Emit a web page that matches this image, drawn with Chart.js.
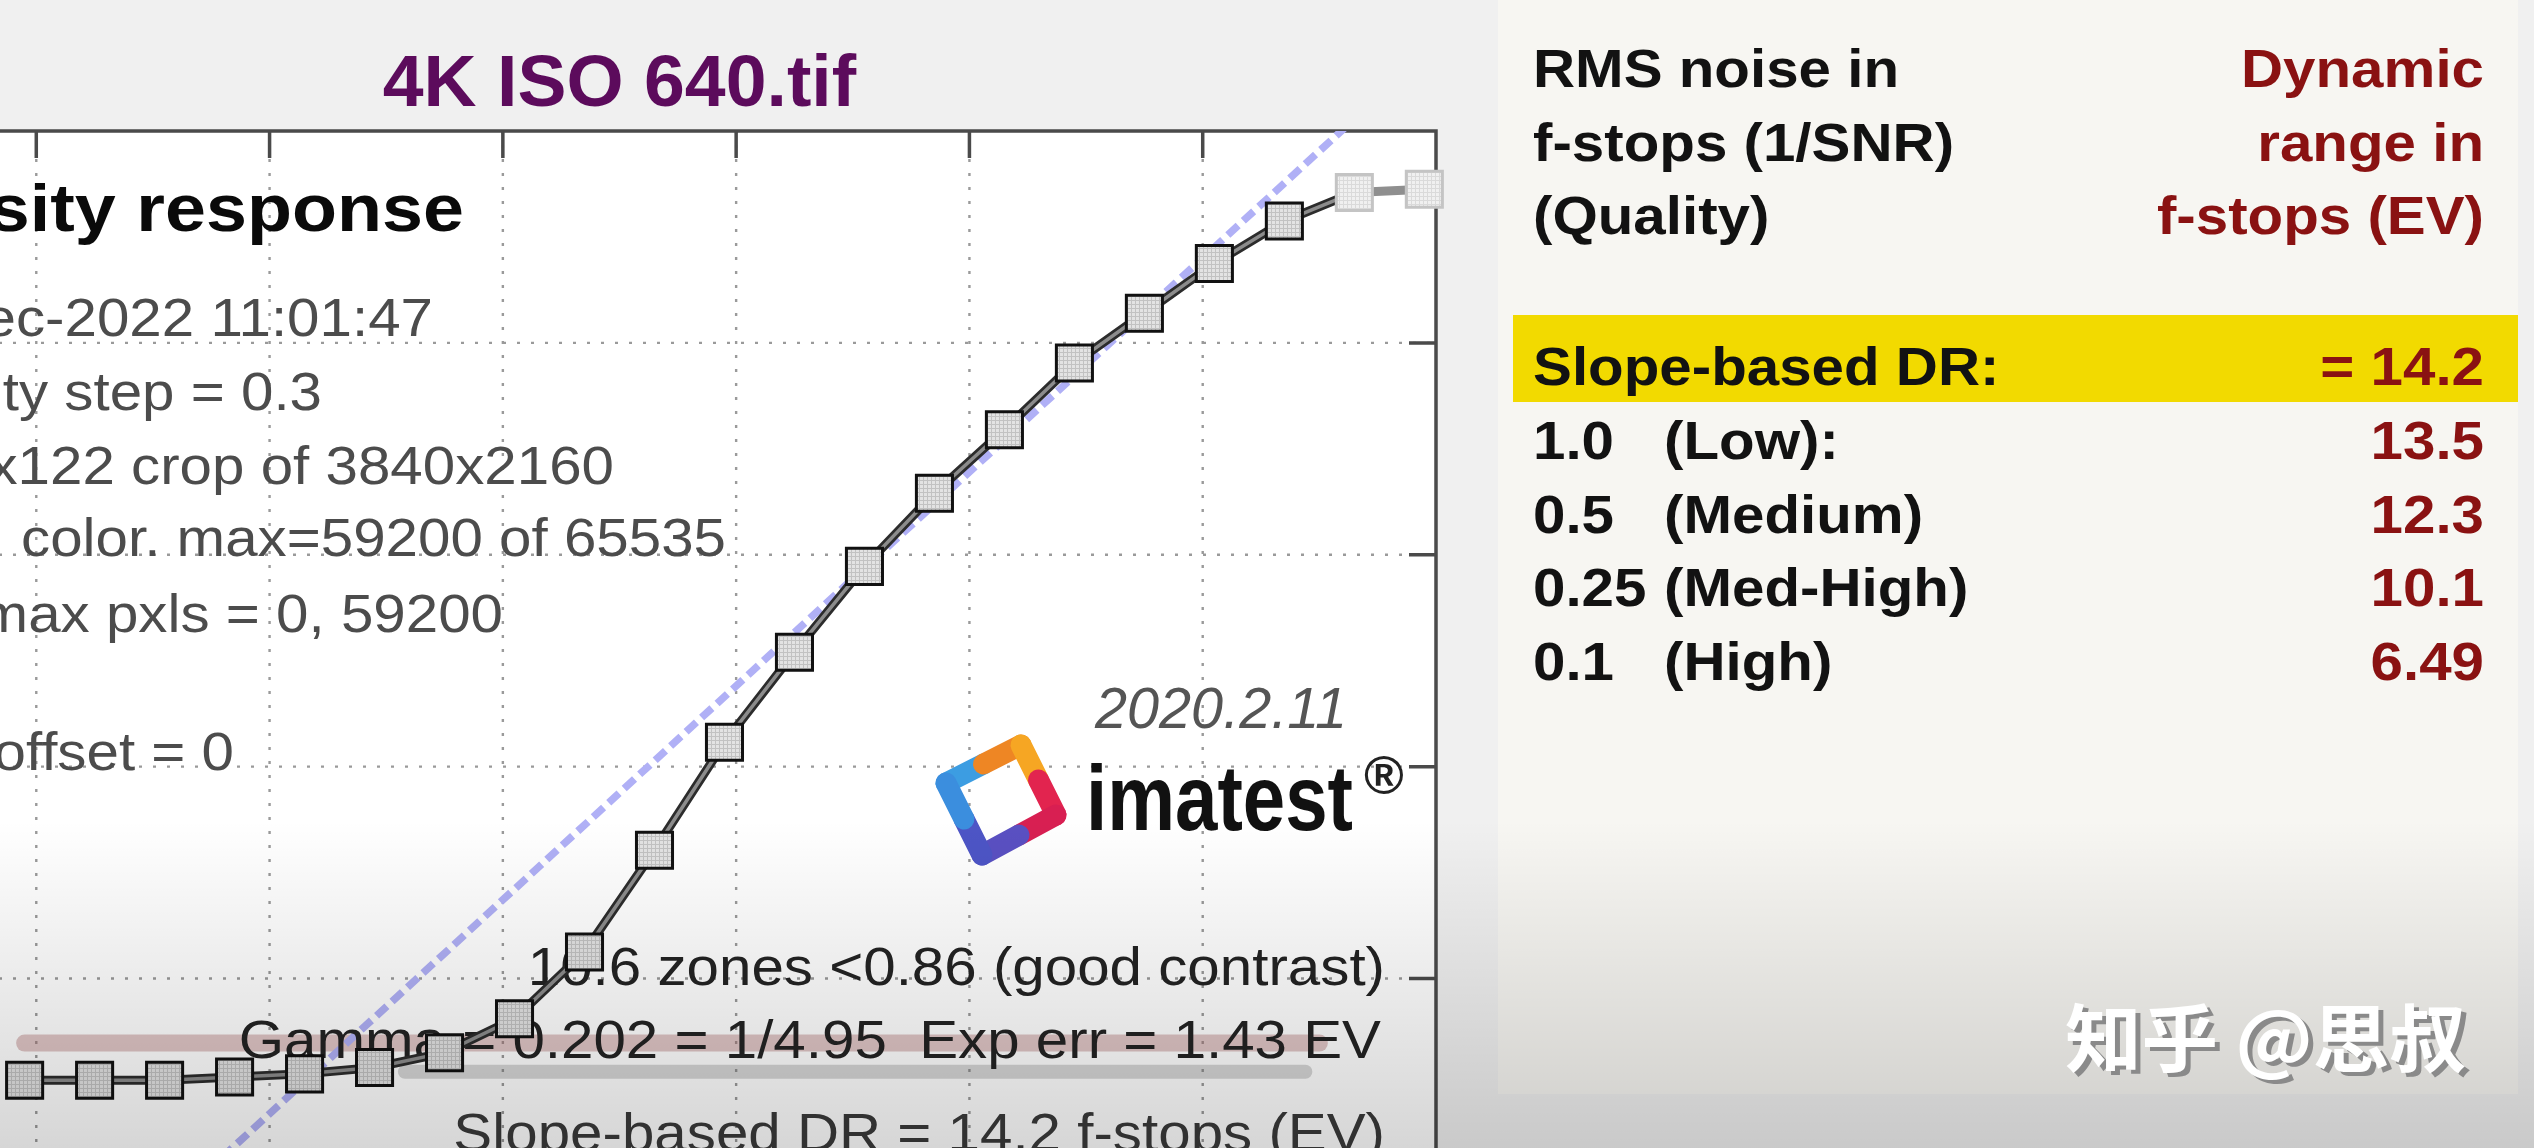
<!DOCTYPE html>
<html>
<head>
<meta charset="utf-8">
<title>4K ISO 640.tif - Density response</title>
<script src="https://cdn.jsdelivr.net/npm/chart.js@4.4.1/dist/chart.umd.min.js"></script>
<style>
  html, body { margin: 0; padding: 0; background: #f0f0f0; }
  #wrap { position: relative; width: 2534px; height: 1148px; overflow: hidden; }
  #chart { position: absolute; left: -197px; top: 0; }
</style>
</head>
<body>
<div id="wrap"><canvas id="chart" width="2731" height="1148"></canvas></div>
<script>
// step chart patches: log exposure (= -density) and log pixel level
const logExposure = [-6.05, -5.75, -5.45, -5.15, -4.85, -4.55, -4.25, -3.95, -3.65, -3.35, -3.05,
                     -2.75, -2.45, -2.15, -1.85, -1.55, -1.25, -0.95, -0.65, -0.35, -0.05];
const logPixel = [-0.896, -0.896, -0.896, -0.893, -0.890, -0.884, -0.870, -0.838, -0.775, -0.679, -0.577,
                  -0.492, -0.411, -0.342, -0.282, -0.219, -0.172, -0.125, -0.085, -0.058, -0.055];
const firstSaturated = 19;

// gamma fit (slope 0.202), dashed
const gammaFitX = [-6.2, 0];
const gammaFitY = [-1.170, 0.082];

// the two horizontal bands near the bottom
const pinkBandX = [-6.05, -0.50];
const pinkBandY = [-0.861, -0.861];
const grayBandX = [-4.42, -0.56];
const grayBandY = [-0.888, -0.888];

// axes (labels are outside the visible crop)
const xGrid = [-6, -5, -4, -3, -2, -1];
const yGrid = [-0.8, -0.6, -0.4, -0.2];
const X_MIN = -7, X_MAX = 0, Y_MIN = -0.96, Y_MAX = 0;

// results table on the right
const qualityLevel = ['1.0', '0.5', '0.25', '0.1'];
const qualityName = ['(Low):', '(Medium)', '(Med-High)', '(High)'];
const dynRange = ['13.5', '12.3', '10.1', '6.49'];
const slopeDR = '= 14.2';

const OFF = 197;            // canvas starts 197px left of the window
const FONT = '"Liberation Sans", Arial, sans-serif';

const canvas = document.getElementById('chart');
const c2d = canvas.getContext('2d');

function hatchPattern(bg, ln) {
  const pc = document.createElement('canvas');
  pc.width = 4; pc.height = 4;
  const p = pc.getContext('2d');
  p.fillStyle = bg; p.fillRect(0, 0, 4, 4);
  p.fillStyle = ln; p.fillRect(0, 0, 4, 1); p.fillRect(0, 0, 1, 4);
  return c2d.createPattern(pc, 'repeat');
}
const hatch = hatchPattern('#e3e3e3', '#c2c2c2');
const hatchLight = hatchPattern('#f0f0f0', '#dadada');

function txt(ctx, s, x, y, font, color, align, sx) {
  ctx.save();
  ctx.font = font;
  ctx.fillStyle = color;
  ctx.textAlign = align || 'left';
  ctx.textBaseline = 'alphabetic';
  ctx.translate(x, y);
  ctx.scale(sx || 1, 1);
  ctx.fillText(s, 0, 0);
  ctx.restore();
}

function txtFit(ctx, s, left, y, font, color, width) {
  ctx.save();
  ctx.font = font;
  const w = ctx.measureText(s).width;
  ctx.restore();
  txt(ctx, s, left, y, font, color, 'left', width / w);
}

const pts = (xs, ys) => xs.map((x, i) => ({x: x, y: ys[i]}));

const figure = {
  id: 'figure',
  beforeDraw(chart) {
    const {ctx, chartArea: a} = chart;
    ctx.save();
    ctx.fillStyle = '#f0f0f0';
    ctx.fillRect(0, 0, chart.width, chart.height);
    ctx.fillStyle = '#ffffff';
    ctx.fillRect(a.left, a.top, a.right - a.left, a.bottom - a.top);
    // results panel
    ctx.fillStyle = '#f7f6f2';
    ctx.fillRect(OFF + 1498, 0, 1020, 1094);
    ctx.restore();
  },
  beforeDatasetsDraw(chart) {
    const {ctx, chartArea: a, scales} = chart;
    ctx.save();
    // dotted grid
    ctx.strokeStyle = '#9a9a9a';
    ctx.lineWidth = 2.4;
    ctx.setLineDash([3, 11]);
    ctx.beginPath();
    xGrid.forEach(v => {
      const px = scales.x.getPixelForValue(v);
      ctx.moveTo(px, a.top);
      ctx.lineTo(px, a.bottom);
    });
    yGrid.forEach(v => {
      const py = scales.y.getPixelForValue(v);
      ctx.moveTo(a.left, py);
      ctx.lineTo(a.right, py);
    });
    ctx.stroke();
    ctx.setLineDash([]);
    // frame and inward ticks
    ctx.strokeStyle = '#4a4a4a';
    ctx.lineWidth = 3.5;
    ctx.beginPath();
    ctx.moveTo(a.left, a.top);
    ctx.lineTo(a.right, a.top);
    ctx.lineTo(a.right, a.bottom);
    xGrid.forEach(v => {
      const px = scales.x.getPixelForValue(v);
      ctx.moveTo(px, a.top);
      ctx.lineTo(px, a.top + 27);
    });
    yGrid.forEach(v => {
      const py = scales.y.getPixelForValue(v);
      ctx.moveTo(a.right, py);
      ctx.lineTo(a.right - 27, py);
    });
    ctx.stroke();
    ctx.restore();
  },
  beforeDatasetDraw(chart, args) {
    if (args.index !== 1) return;
    const ctx = chart.ctx;
    ctx.save();
    ctx.translate(OFF, 0);
    const reg = '53px ' + FONT;
    const grey = '#4c4c4c';
    txt(ctx, 'sity response', 464, 231, 'bold 67px ' + FONT, '#0a0a0a', 'right', 1.1);
    txt(ctx, 'ec-2022 11:01:47', 433, 336, reg, grey, 'right', 1.1);
    txt(ctx, 'ty step = 0.3', 322, 410, reg, grey, 'right', 1.1);
    txt(ctx, 'x122 crop of 3840x2160', 614, 484, reg, grey, 'right', 1.1);
    txt(ctx, 'color. max=59200 of 65535', 726, 556, reg, grey, 'right', 1.1);
    txt(ctx, 'max pxls = 0, 59200', 503, 632, reg, grey, 'right', 1.1);
    txt(ctx, 'offset = 0', 234, 770, reg, grey, 'right', 1.1);

    txtFit(ctx, '2020.2.11', 1095, 728, 'italic 57px ' + FONT, '#555555', 252);

    // imatest logo
    const T = [1021, 745], L = [946, 783], B = [982, 855], R = [1056, 815];
    const mid = (p, q) => [(p[0] + q[0]) / 2, (p[1] + q[1]) / 2];
    const segs = [
      [L, mid(L, T), '#3c9de2'], [mid(L, T), T, '#ee8624'],
      [T, mid(T, R), '#f6a623'], [mid(T, R), R, '#e2244f'],
      [R, mid(R, B), '#d81f52'], [mid(R, B), B, '#5a50c2'],
      [B, mid(B, L), '#4d55c6'], [mid(B, L), L, '#3b8ede']
    ];
    ctx.lineWidth = 21;
    ctx.lineCap = 'round';
    segs.forEach(s => {
      ctx.strokeStyle = s[2];
      ctx.beginPath();
      ctx.moveTo(s[0][0], s[0][1]);
      ctx.lineTo(s[1][0], s[1][1]);
      ctx.stroke();
    });
    txtFit(ctx, 'imatest', 1086, 830, 'bold 92px ' + FONT, '#111111', 267);
    txt(ctx, '\u00ae', 1384, 794, 'bold 54px ' + FONT, '#222222', 'center', 1);

    const dark = '#232323';
    txt(ctx, '10.6 zones <0.86 (good contrast)', 1385, 985, reg, dark, 'right', 1.1);
    txt(ctx, 'Gamma = 0.202 = 1/4.95  Exp err = 1.43 EV', 1381, 1058, reg, dark, 'right', 1.1);
    txt(ctx, 'Slope-based DR = 14.2 f-stops (EV)', 1385, 1151, reg, '#3a3a3a', 'right', 1.1);
    ctx.restore();
  },
  afterDraw(chart) {
    const {ctx, chartArea: a} = chart;
    ctx.save();
    // title centred over the plot
    txt(ctx, '4K ISO 640.tif', (a.left + a.right) / 2, 106, 'bold 72px ' + FONT, '#5c0b5c', 'center', 1.02);

    ctx.translate(OFF, 0);
    // results panel
    ctx.fillStyle = '#f2da00';
    ctx.fillRect(1513, 315, 1005, 87);
    const bold = 'bold 53px ' + FONT;
    const black = '#121212', maroon = '#8a1212';
    const x0 = 1533, x1 = 1664, xr = 2484;
    txt(ctx, 'RMS noise in', x0, 87, bold, black, 'left', 1.1);
    txt(ctx, 'f-stops (1/SNR)', x0, 161, bold, black, 'left', 1.1);
    txt(ctx, '(Quality)', x0, 234, bold, black, 'left', 1.1);
    txt(ctx, 'Dynamic', xr, 87, bold, maroon, 'right', 1.1);
    txt(ctx, 'range in', xr, 161, bold, maroon, 'right', 1.1);
    txt(ctx, 'f-stops (EV)', xr, 234, bold, maroon, 'right', 1.1);
    txt(ctx, 'Slope-based DR:', x0, 385, bold, black, 'left', 1.1);
    txt(ctx, slopeDR, xr, 385, bold, maroon, 'right', 1.1);
    qualityLevel.forEach((q, i) => {
      const y = 459 + i * 73.5;
      txt(ctx, q, x0, y, bold, black, 'left', 1.1);
      txt(ctx, qualityName[i], x1, y, bold, black, 'left', 1.1);
      txt(ctx, dynRange[i], xr, y, bold, maroon, 'right', 1.1);
    });

    // darkening towards the bottom of the screenshot
    const g = ctx.createLinearGradient(0, 820, 0, 1148);
    g.addColorStop(0, 'rgba(0,0,0,0)');
    g.addColorStop(1, 'rgba(0,0,0,0.16)');
    ctx.fillStyle = g;
    ctx.fillRect(-OFF, 820, chart.width, 328);

    // watermark
    const wm = '\u77e5\u4e4e @\u601d\u53d4';
    const wf = 'bold 74px "Noto Sans CJK SC", sans-serif';
    txtFit(ctx, wm, 2070, 1070, wf, '#8a8a8a', 401);
    txtFit(ctx, wm, 2065, 1066, wf, '#ffffff', 401);
    ctx.restore();
  }
};

new Chart(c2d, {
  type: 'line',
  data: {
    datasets: [
      {
        data: pts(logExposure, logPixel),
        borderColor: '#8c8c8c',
        borderWidth: 3.5,
        segment: { borderColor: c => c.p1DataIndex > firstSaturated ? '#8f8f8f' : undefined },
        pointStyle: 'rect',
        pointRadius: 25.5,
        pointBorderWidth: 3,
        pointBackgroundColor: logPixel.map((v, i) => i >= firstSaturated ? hatchLight : hatch),
        pointBorderColor: logPixel.map((v, i) => i >= firstSaturated ? '#c4c4c4' : '#111111'),
        clip: false
      },
      {
        data: pts(logExposure, logPixel),
        borderColor: '#2c2c2c',
        borderWidth: 9,
        segment: { borderColor: c => c.p1DataIndex > firstSaturated ? '#8f8f8f' : undefined },
        pointRadius: 0
      },
      {
        data: pts(gammaFitX, gammaFitY),
        borderColor: '#b0b0f6',
        borderWidth: 7.5,
        borderDash: [14, 7],
        pointRadius: 0,
        clip: 0
      },
      {
        data: pts(grayBandX, grayBandY),
        borderColor: 'rgba(120,120,120,0.3)',
        borderWidth: 14,
        borderCapStyle: 'round',
        pointRadius: 0
      },
      {
        data: pts(pinkBandX, pinkBandY),
        borderColor: 'rgba(175,110,110,0.4)',
        borderWidth: 17,
        borderCapStyle: 'round',
        pointRadius: 0
      }
    ]
  },
  options: {
    responsive: false,
    animation: false,
    devicePixelRatio: 1,
    events: [],
    layout: { autoPadding: false, padding: { left: 0, top: 131, right: 1098, bottom: 0 } },
    plugins: { legend: { display: false }, tooltip: { enabled: false }, title: { display: false } },
    scales: {
      x: { type: 'linear', display: false, min: X_MIN, max: X_MAX },
      y: { type: 'linear', display: false, min: Y_MIN, max: Y_MAX }
    }
  },
  plugins: [figure]
});
</script>
</body>
</html>
